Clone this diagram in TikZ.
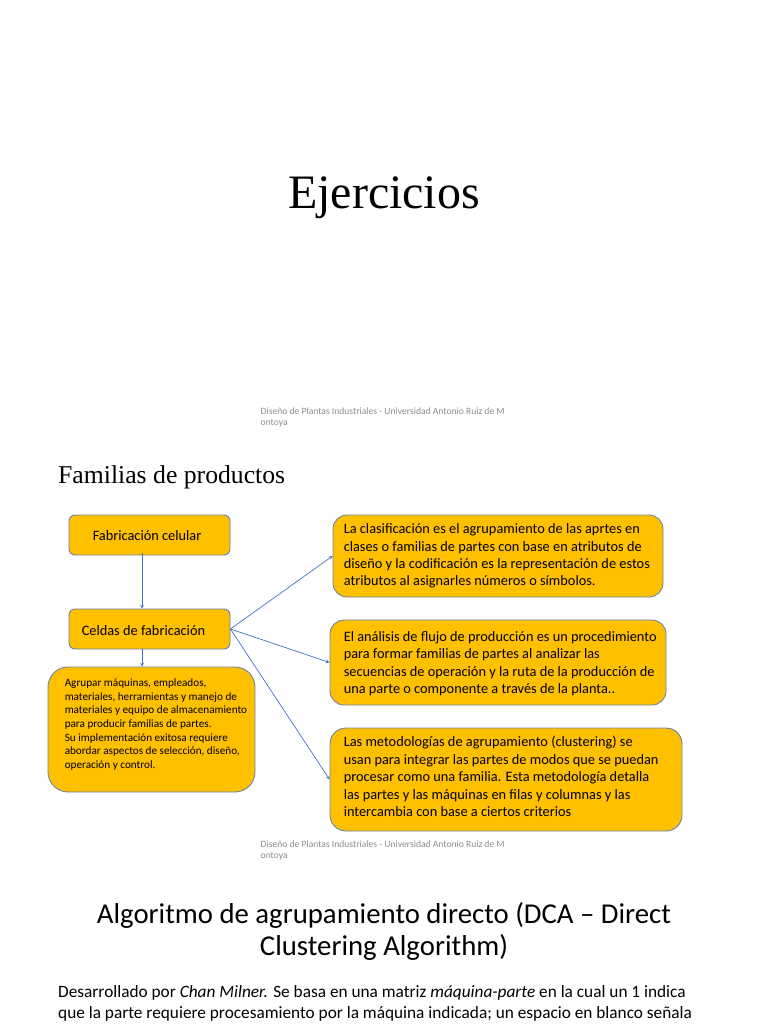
\documentclass[tikz,border=0pt]{standalone}
\usepackage{fontspec}
\setmainfont{Carlito}
\newfontfamily\titlefont{Liberation Serif}
\definecolor{cajafill}{HTML}{FFC000}
\definecolor{cajaline}{HTML}{6A82A8}
\definecolor{flecha}{HTML}{4472C4}
\definecolor{piegris}{HTML}{8C8C8C}
\tikzset{
	caja/.style={rectangle,rounded corners=#1,draw=cajaline,fill=cajafill,line width=0.9pt,inner sep=0pt},
	cajatxt/.style={anchor=west,align=left,inner sep=0pt,text=black,font=\fontsize{14.35}{17.4}\selectfont},
	cajachica/.style={anchor=west,align=left,inner sep=0pt,text=black,font=\fontsize{11.2}{13.6}\selectfont},
	pie/.style={anchor=north west,align=left,inner sep=0pt,text=piegris,font=\fontsize{9.6}{10.2}\selectfont},
	flechita/.style={->,draw=flecha,line width=0.7pt}
}
\begin{document}
\begin{tikzpicture}[line join = round,>=stealth,x=1pt,y=-1pt]
	\useasboundingbox (0,0) rectangle (768,1024);
	\node[font=\titlefont\fontsize{48}{52}\selectfont] (titulo) at (384,198) {Ejercicios};
	\node[pie] (pieuno) at (260.5,408) {Diseño de Plantas Industriales - Universidad Antonio Ruiz de M\\ontoya};
	\node[anchor=west,inner sep=0pt,font=\titlefont\fontsize{25.7}{28}\selectfont] (familias) at (58,477) {Familias de productos};
	% columna izquierda
	\node[caja=6pt,minimum width=161pt,minimum height=40pt] (fabrica) at (149.5,535) {};
	\node[cajatxt] (fabricatxt) at ([xshift=24pt,yshift=-0.5pt]fabrica.west) {Fabricación celular};
	\node[caja=6pt,minimum width=161pt,minimum height=40pt] (celdas) at (149.5,629) {};
	\node[cajatxt] (celdastxt) at ([xshift=13pt,yshift=-2pt]celdas.west) {Celdas de fabricación};
	\node[caja=20pt,minimum width=207pt,minimum height=125pt] (agrupar) at (151.5,729.5) {};
	\node[cajachica] (agrupartxt) at ([xshift=17pt,yshift=5pt]agrupar.west) {Agrupar máquinas, empleados,\\materiales, herramientas y manejo de\\materiales y equipo de almacenamiento\\para producir familias de partes.\\Su implementación exitosa requiere\\abordar aspectos de selección, diseño,\\operación y control.};
	% columna derecha
	\node[caja=14pt,minimum width=330pt,minimum height=82pt] (clasifica) at (498,556) {};
	\node[cajatxt] (clasificatxt) at ([xshift=11pt]clasifica.west) {La clasificación es el agrupamiento de las aprtes en\\clases o familias de partes con base en atributos de\\diseño y la codificación es la representación de estos\\atributos al asignarles números o símbolos.};
	\node[caja=14pt,minimum width=336pt,minimum height=85pt] (analisis) at (498,662.5) {};
	\node[cajatxt] (analisistxt) at ([xshift=14pt,yshift=-1pt]analisis.west) {El análisis de flujo de producción es un procedimiento\\para formar familias de partes al analizar las\\secuencias de operación y la ruta de la producción de\\una parte o componente a través de la planta..};
	\node[caja=16pt,minimum width=352pt,minimum height=103pt] (metodos) at (506,779.5) {};
	\node[cajatxt] (metodostxt) at ([xshift=14pt,yshift=3pt]metodos.west) {Las metodologías de agrupamiento (clustering) se\\usan para integrar las partes de modos que se puedan\\procesar como una familia. Esta metodología detalla\\las partes y las máquinas en filas y columnas y las\\intercambia con base a ciertos criterios};
	\node[pie] (piedos) at (260.5,841) {Diseño de Plantas Industriales - Universidad Antonio Ruiz de M\\ontoya};
	\node[align=center,inner sep=0pt,font=\fontsize{28.75}{32}\selectfont] (algoritmo) at (384,931.5) {Algoritmo de agrupamiento directo (DCA – Direct\\Clustering Algorithm)};
	\node[anchor=north west,align=left,inner sep=0pt,font=\fontsize{17.28}{21}\selectfont] (cuerpo) at (58,985.5) {Desarrollado por \textit{Chan Milner.} Se basa en una matriz \textit{máquina-parte} en la cual un 1 indica\\que la parte requiere procesamiento por la máquina indicada; un espacio en blanco señala};
	% flechas
	\draw[flechita] ([xshift=-7.5pt,yshift=2pt]fabrica.south) -- ([xshift=-7.5pt]celdas.north);
	\draw[flechita] ([xshift=-7.5pt]celdas.south) -- ([xshift=-9.5pt]agrupar.north);
	\draw[flechita] (celdas.east) -- (clasifica.west);
	\draw[flechita] (celdas.east) -- (analisis.west);
	\draw[flechita] (celdas.east) -- (metodos.west);
\end{tikzpicture}
\end{document}
